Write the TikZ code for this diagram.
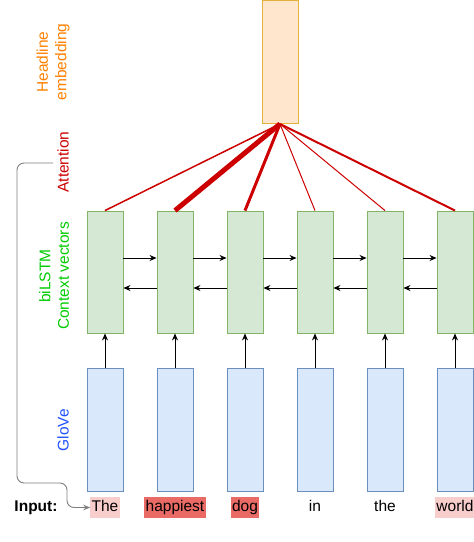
\documentclass[tikz,border=0pt]{standalone}
\usepackage{fontspec}
\setmainfont{Liberation Sans}
\usetikzlibrary{positioning, arrows.meta}

\definecolor{lstmfill}{HTML}{D5E8D4}
\definecolor{lstmline}{HTML}{82B366}
\definecolor{glovefill}{HTML}{DAE8FC}
\definecolor{gloveline}{HTML}{6C8EBF}
\definecolor{headfill}{HTML}{FFE6CC}
\definecolor{headline}{HTML}{E3B23C}
\definecolor{attred}{HTML}{CC0000}
\definecolor{labelorange}{HTML}{FF8000}
\definecolor{labelgreen}{HTML}{00CC00}
\definecolor{labelblue}{HTML}{1F4FFF}
\definecolor{hilight}{HTML}{F8CECC}
\definecolor{histrong}{HTML}{EA6B66}

\begin{document}
\begin{tikzpicture}[x=1pt, y=-1pt, >={Stealth[length=7pt, width=6pt]},
  every node/.style={font=\fontsize{15.5}{18.5}\selectfont},
  lstm/.style={draw=lstmline, fill=lstmfill, line width=0.9pt, minimum width=36pt, minimum height=122pt, inner sep=0pt},
  glove/.style={draw=gloveline, fill=glovefill, line width=0.9pt, minimum width=36pt, minimum height=123pt, inner sep=0pt},
  head/.style={draw=headline, fill=headfill, line width=0.9pt, minimum width=36pt, minimum height=123pt, inner sep=0pt},
  word/.style={inner xsep=1.2pt, inner ysep=3.3pt, text height=11pt, text depth=3.5pt},
  sidelabel/.style={rotate=90, align=center, inner sep=0pt},
  att/.style={draw=attred},
  bracket/.style={draw=gray, line width=0.9pt, rounded corners=7pt, -{Stealth[length=7pt, width=5.5pt]}}]

  \useasboundingbox (0,0) rectangle (474,542);

  % headline embedding
  \node[head] (Headline) at (280,62) {};

  % side labels
  \node[sidelabel, text=labelorange] (HeadLabel) at (53,62) {Headline\\embedding};
  \node[sidelabel, text=attred] (AttLabel) at (63,162) {Attention};
  \node[sidelabel, text=labelgreen] (LstmLabel) at (54,276) {biLSTM\\Context vectors};
  \node[sidelabel, text=labelblue] (GloveLabel) at (63,430) {GloVe};

  % columns
  \foreach \i/\w/\bg/\lw in {1/The/hilight/1.5pt, 2/happiest/histrong/5pt, 3/dog/histrong/3pt,
                             4/in/white/1pt, 5/the/white/1pt, 6/world/hilight/2pt} {
    \node[lstm] (Lstm\i) at ({105+70*(\i-1)},272) {};
    \node[glove] (Glove\i) at ({105+70*(\i-1)},429.5) {};
    \node[word, fill=\bg] (Word\i) at ({105+70*(\i-1)},507.5) {\w};
    \draw[->, line width=1pt] (Glove\i.north) -- (Lstm\i.south);
    \draw[att, line width=\lw] (Headline.south) -- (Lstm\i.north);
  }

  % recurrent connections
  \foreach \i/\j in {1/2, 2/3, 3/4, 4/5, 5/6} {
    \draw[->, line width=1pt] ([yshift=14pt]Lstm\i.east) -- ([yshift=14pt]Lstm\j.west);
    \draw[->, line width=1pt] ([yshift=-16pt]Lstm\j.west) -- ([yshift=-16pt]Lstm\i.east);
  }

  % input row
  \node[word, font=\fontsize{15.5}{18.5}\selectfont\bfseries] (Input) at (36,507.5) {Input:};

  \coordinate (BrkStart) at (53,163);
  \draw[bracket] (BrkStart) -- (17,163) -- (17,483) -- (67,483) -- (67,507.5) -- (Word1.west);

\end{tikzpicture}
\end{document}
